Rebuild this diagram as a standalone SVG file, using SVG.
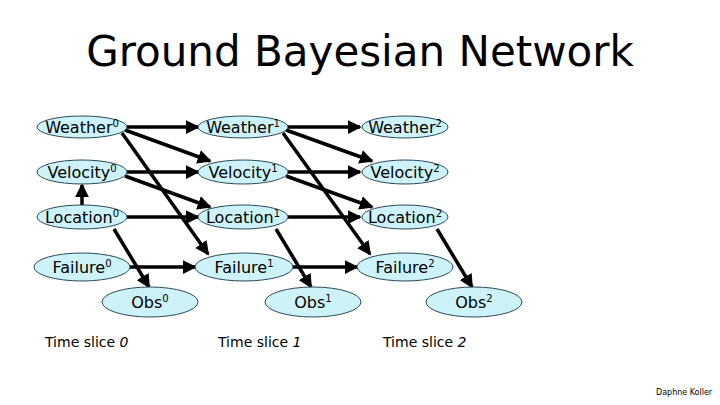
<svg xmlns="http://www.w3.org/2000/svg" width="720" height="405" viewBox="0 0 720 405">
<defs><marker id="ah" markerWidth="4" markerHeight="4" refX="3.5" refY="2" orient="auto" markerUnits="strokeWidth"><path d="M0,0 L4,2 L0,4 z" fill="#000"/></marker></defs>
<style>
ellipse{fill:#cdf3f8;stroke:#2a4a5a;stroke-width:1}
text{font-family:"DejaVu Sans",sans-serif;fill:#000}
.n{font-size:16px;text-anchor:middle}
.s{font-size:10px}
.c line{stroke:#000;stroke-width:3.5;marker-end:url(#ah)}
</style>
<rect width="720" height="405" fill="#fff"/>
<text x="360" y="66" font-size="42" text-anchor="middle">Ground Bayesian Network</text>
<g class="c">
<line x1="127" y1="127" x2="198" y2="127"/>
<line x1="125" y1="130" x2="210" y2="161"/>
<line x1="122" y1="133" x2="208" y2="254"/>
<line x1="127" y1="172" x2="198" y2="172"/>
<line x1="125" y1="176" x2="210" y2="207"/>
<line x1="127" y1="217" x2="198" y2="217"/>
<line x1="82" y1="205" x2="82" y2="185"/>
<line x1="114" y1="229" x2="149" y2="287"/>
<line x1="130" y1="267" x2="195" y2="267"/>
<line x1="288" y1="127" x2="360" y2="127"/>
<line x1="286" y1="130" x2="372" y2="161"/>
<line x1="283" y1="133" x2="370" y2="254"/>
<line x1="288" y1="172" x2="360" y2="172"/>
<line x1="286" y1="176" x2="372" y2="207"/>
<line x1="288" y1="217" x2="360" y2="217"/>
<line x1="276" y1="229" x2="311" y2="287"/>
<line x1="293" y1="267" x2="357" y2="267"/>
<line x1="437" y1="229" x2="472" y2="287"/>
</g>
<g id="w0"><ellipse cx="82" cy="127" rx="45" ry="11"/><text class="n" x="82" y="133">Weather<tspan class="s" dy="-6">0</tspan></text></g>
<g id="v0"><ellipse cx="82" cy="172" rx="45" ry="12"/><text class="n" x="82" y="178">Velocity<tspan class="s" dy="-6">0</tspan></text></g>
<g id="l0"><ellipse cx="82" cy="217" rx="45" ry="12"/><text class="n" x="82" y="223">Location<tspan class="s" dy="-6">0</tspan></text></g>
<g id="f0"><ellipse cx="82" cy="267" rx="48" ry="14"/><text class="n" x="82" y="273">Failure<tspan class="s" dy="-6">0</tspan></text></g>
<g id="o0"><ellipse cx="150" cy="302" rx="48" ry="15"/><text class="n" x="150" y="308">Obs<tspan class="s" dy="-6">0</tspan></text></g>
<g id="w1"><ellipse cx="243" cy="127" rx="45" ry="11"/><text class="n" x="243" y="133">Weather<tspan class="s" dy="-6">1</tspan></text></g>
<g id="v1"><ellipse cx="243" cy="172" rx="45" ry="12"/><text class="n" x="243" y="178">Velocity<tspan class="s" dy="-6">1</tspan></text></g>
<g id="l1"><ellipse cx="243" cy="217" rx="45" ry="12"/><text class="n" x="243" y="223">Location<tspan class="s" dy="-6">1</tspan></text></g>
<g id="f1"><ellipse cx="244" cy="267" rx="49" ry="14"/><text class="n" x="244" y="273">Failure<tspan class="s" dy="-6">1</tspan></text></g>
<g id="o1"><ellipse cx="313" cy="302" rx="48" ry="15"/><text class="n" x="313" y="308">Obs<tspan class="s" dy="-6">1</tspan></text></g>
<g id="w2"><ellipse cx="405" cy="127" rx="43" ry="11"/><text class="n" x="405" y="133">Weather<tspan class="s" dy="-6">2</tspan></text></g>
<g id="v2"><ellipse cx="405" cy="172" rx="43" ry="12"/><text class="n" x="405" y="178">Velocity<tspan class="s" dy="-6">2</tspan></text></g>
<g id="l2"><ellipse cx="405" cy="217" rx="43" ry="12"/><text class="n" x="405" y="223">Location<tspan class="s" dy="-6">2</tspan></text></g>
<g id="f2"><ellipse cx="405" cy="267" rx="48" ry="14"/><text class="n" x="405" y="273">Failure<tspan class="s" dy="-6">2</tspan></text></g>
<g id="o2"><ellipse cx="474" cy="302" rx="48" ry="15"/><text class="n" x="474" y="308">Obs<tspan class="s" dy="-6">2</tspan></text></g>
<text x="45" y="347" font-size="14">Time slice <tspan font-style="italic">0</tspan></text>
<text x="218" y="347" font-size="14">Time slice <tspan font-style="italic">1</tspan></text>
<text x="383" y="347" font-size="14">Time slice <tspan font-style="italic">2</tspan></text>
<text x="656" y="395" font-size="8">Daphne Koller</text>
</svg>
